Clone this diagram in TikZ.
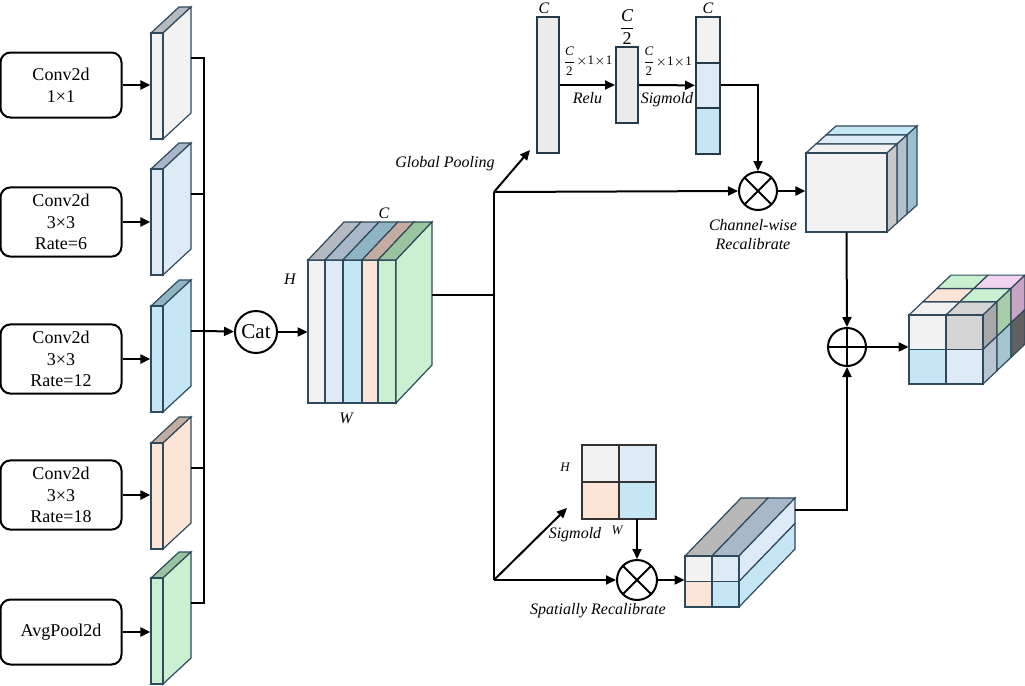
\documentclass[tikz,border=0pt]{standalone}
\usepackage{fontspec}
\setmainfont{Liberation Serif}
\usepackage{amsmath}
\usetikzlibrary{arrows.meta}
\usetikzlibrary{positioning}
\definecolor{edge}{HTML}{2E4A5C}
\definecolor{cgray}{HTML}{F2F2F2}
\definecolor{cmid}{HTML}{D4D4D4}
\definecolor{cbar}{HTML}{EBEBEB}
\definecolor{cblue}{HTML}{DEEAF6}
\definecolor{csky}{HTML}{C5E6F5}
\definecolor{cpeach}{HTML}{FCE4D6}
\definecolor{cgreen}{HTML}{C9F0D0}
\definecolor{tgray}{HTML}{B4BAC0}
\definecolor{tblue}{HTML}{A8B8C8}
\definecolor{tsky}{HTML}{8FB4C4}
\definecolor{tpeach}{HTML}{C4ACA0}
\definecolor{tgreen}{HTML}{98C4A0}
\definecolor{tdark}{HTML}{B8B8B8}
\tikzstyle{wire}=[line width=1pt]
\tikzstyle{flow}=[wire, -{Triangle[length=5pt, width=4.5pt]}]
\tikzstyle{face}=[draw=edge, line width=0.6pt]
\tikzstyle{layerbox}=[draw, line width=1pt, rounded corners=5pt, minimum width=60.5pt, minimum height=32.5pt, align=center, font=\fontsize{9}{10.8}\selectfont]
\tikzstyle{bar}=[draw=edge!80!black, line width=1pt, inner sep=0pt, minimum width=11pt]
\tikzstyle{opnode}=[circle, draw, line width=1pt, inner sep=0pt, minimum size=19pt]
\tikzstyle{mulop}=[opnode, path picture={\draw[line width=1pt] (path picture bounding box.north west) -- (path picture bounding box.south east) (path picture bounding box.north east) -- (path picture bounding box.south west);}]
\tikzstyle{addop}=[opnode, path picture={\draw[line width=1pt] (path picture bounding box.north) -- (path picture bounding box.south) (path picture bounding box.west) -- (path picture bounding box.east);}]
\tikzstyle{tag}=[font=\fontsize{8}{9.5}\selectfont\itshape, inner sep=1pt]
\tikzstyle{dimlabel}=[font=\fontsize{8}{9}\selectfont\itshape, inner sep=0pt]
\begin{document}
\begin{tikzpicture}[x=0.5pt, y=-0.5pt]
  \useasboundingbox (0,0) rectangle (1025,686);
  \foreach \i/\txt/\y/\t/\f/\tc in {1/{Conv2d\\1×1}/85/33/cgray/tgray,
      2/{Conv2d\\3×3\\Rate=6}/222/169/cblue/tblue,
      3/{Conv2d\\3×3\\Rate=12}/359/306/csky/tsky,
      4/{Conv2d\\3×3\\Rate=18}/495/443/cpeach/tpeach,
      5/{AvgPool2d}/632/578/cgreen/tgreen} {
    \node[layerbox] (b\i) at (61,\y) {\txt};
    \draw[face, fill=\tc] (151,\t) -- (163,\t) -- ++(28,-26) -- ++(-12,0) -- cycle;
    \draw[face, fill=\f] (163,\t) -- ++(28,-26) -- ++(0,106) -- (163,\t+106) -- cycle;
    \node[face, fill=\f, inner sep=0pt, minimum width=6pt, minimum height=53pt] (s\i) at (157,\t+53) {};
    \coordinate (o\i) at (191,\t+25);
    \draw[flow] (b\i.east) -- (b\i.east -| s\i.west);
  }
  \coordinate (bus) at (204,0);
  \draw[wire] (o1) -- (o1 -| bus) -- (o5 -| bus) -- (o5);
  \foreach \i in {2,3,4}
    \draw[wire] (o\i) -- (o\i -| bus);
  \node[opnode, minimum size=21pt, font=\fontsize{10.5}{12}\selectfont] (cat) at (256,332) {Cat};
  \draw[flow] (o3 -| bus) -- (cat);

  \foreach \xa/\xb/\f/\tc in {308/325/cgray/tgray, 325/343/cblue/tblue, 343/362/csky/tsky,
      362/378/cpeach/tpeach, 378/396/cgreen/tgreen} {
    \draw[face, fill=\f] (\xa,260) rectangle (\xb,403);
    \draw[face, fill=\tc] (\xa,260) -- (\xb,260) -- ++(36,-38) -- (\xa+36,222) -- cycle;
  }
  \draw[face, fill=cgreen] (396,260) -- (432,222) -- (432,365) -- (396,403) -- cycle;
  \node[inner sep=0pt, minimum width=44pt, minimum height=71.5pt] (feat) at (352,331.5) {};
  \node[dimlabel] at (384,213) {C};
  \node[dimlabel] at (290,279) {H};
  \node[dimlabel] at (346,418) {W};
  \draw[flow] (cat) -- (cat -| feat.west);

  \coordinate (fout) at (432,295);
  \coordinate (split) at (494,295);
  \coordinate (up) at (494,192);
  \coordinate (down) at (494,580);
  \draw[wire] (fout) -- (split);
  \draw[wire] (up) -- (down);
  \coordinate (gp) at (530,150);
  \draw[flow] (up) -- (gp);
  \node[tag] at (445,164) {Global Pooling};

  \node[bar, fill=cbar, minimum height=68pt] (bar1) at (548,85) {};
  \node[bar, fill=cbar, minimum height=38pt] (bar2) at (627,85) {};
  \node[bar, fill=cgray, minimum width=12pt, minimum height=22.7pt] (c1) at (708,40) {};
  \node[bar, fill=cblue, minimum width=12pt, minimum height=22.7pt, below=-1pt of c1] (c2) {};
  \node[bar, fill=csky, minimum width=12pt, minimum height=22.7pt, below=-1pt of c2] (c3) {};
  \node[dimlabel] at (544,8) {C};
  \node[dimlabel, font=\fontsize{9}{10}\selectfont] at (627,27) {$\dfrac{\textit{C}}{\text{2}}$};
  \node[dimlabel] at (708,8) {C};
  \draw[flow] (bar1) -- node[above=1pt, font=\fontsize{6.5}{7}\selectfont] {$\dfrac{\textit{C}}{\text{2}}{\times}\text{1}{\times}\text{1}$}
    node[tag, below=2pt] {Relu} (bar2);
  \draw[flow] (bar2) -- node[above=1pt, font=\fontsize{6.5}{7}\selectfont] {$\dfrac{\textit{C}}{\text{2}}{\times}\text{1}{\times}\text{1}$}
    node[tag, below=2pt] {Sigmold} (c2);

  \node[mulop] (cw) at (758,191) {};
  \draw[flow] (c2.east) -| (cw.north);
  \draw[flow] (up) -- (cw.west);
  \node[tag, align=center] at (753,235) {Channel-wise\\Recalibrate};

  \foreach \k/\tc/\sc in {2/csky/9CC0D0, 1/cblue/B4C0CC, 0/cgray/C8C8C8} {
    \definecolor{sidecol}{HTML}{\sc}
    \draw[face, fill=\tc] (806+10*\k,153-9*\k) -- (887+10*\k,153-9*\k) -- ++(10,-9) -- (816+10*\k,144-9*\k) -- cycle;
    \draw[face, fill=sidecol] (887+10*\k,153-9*\k) -- ++(10,-9) -- ++(0,79) -- (887+10*\k,232-9*\k) -- cycle;
  }
  \node[face, fill=cgray, inner sep=0pt, minimum width=40.5pt, minimum height=39.5pt] (scube) at (846.5,192.5) {};
  \draw[flow] (cw) -- (cw -| scube.west);

  \node[addop] (add) at (847,347) {};
  \draw[flow] (scube.south) -- (add.north);

  \foreach \r/\c/\tc in {0/0/F2F2F2, 0/1/D4D4D4, 1/0/FCE4D6, 1/1/C9F0D0, 2/0/C9F0D0, 2/1/F2D4F0} {
    \definecolor{cellcol}{HTML}{\tc}
    \draw[face, fill=cellcol] (909+37*\c+14*\r,315-13.3*\r) -- ++(37,0) -- ++(14,-13.3) -- ++(-37,0) -- cycle;
  }
  \foreach \r/\h/\tc in {0/0/A8A8A8, 1/0/A8CCA8, 2/0/C8A4C4, 0/1/B8C4D0, 1/1/A4C4D0, 2/1/606060} {
    \definecolor{cellcol}{HTML}{\tc}
    \draw[face, fill=cellcol] (983+14*\r,315-13.3*\r+34.5*\h) -- ++(14,-13.3) -- ++(0,34.5) -- ++(-14,13.3) -- cycle;
  }
  \foreach \c/\h/\f in {0/0/cgray, 1/0/cmid, 0/1/csky, 1/1/cblue}
    \draw[face, fill=\f] (909+37*\c,315+34.5*\h) rectangle ++(37,34.5);
  \node[inner sep=0pt, minimum width=37pt, minimum height=34.5pt] (fcube) at (946,349.5) {};
  \draw[flow] (add) -- (add -| fcube.west);

  \node[mulop, minimum size=20pt] (sw) at (637,580) {};
  \draw[flow] (down) -- (sw);
  \coordinate (sa) at (567,508);
  \draw[flow] (down) -- (sa);
  \node[tag] at (575,535) {Sigmold};
  \foreach \c/\h/\f in {0/0/cgray, 1/0/cblue, 0/1/cpeach, 1/1/csky}
    \draw[face, fill=\f, line width=0.9pt, draw=black!80] (582+37*\c,445+37*\h) rectangle ++(37,37);
  \node[inner sep=0pt, minimum width=37pt, minimum height=37pt] (smap) at (619,482) {};
  \node[dimlabel, font=\fontsize{6.5}{7}\selectfont\itshape] at (565,467) {H};
  \node[dimlabel, font=\fontsize{6.5}{7}\selectfont\itshape] at (617,530) {W};
  \draw[flow] (smap.south -| sw) -- (sw.north);
  \node[tag] at (598,611) {Spatially Recalibrate};

  \draw[face, fill=tdark] (685,556) -- (712,556) -- ++(56,-58) -- (741,498) -- cycle;
  \draw[face, fill=tblue] (712,556) -- (739,556) -- ++(56,-58) -- (768,498) -- cycle;
  \draw[face, fill=cblue] (739,556) -- ++(56,-58) -- ++(0,25.5) -- (739,581.5) -- cycle;
  \draw[face, fill=csky] (739,581.5) -- ++(56,-58) -- ++(0,25.5) -- (739,607) -- cycle;
  \foreach \c/\h/\f in {0/0/cgray, 1/0/cblue, 0/1/cpeach, 1/1/csky}
    \draw[face, fill=\f] (685+27*\c,556+25.5*\h) rectangle ++(27,25.5);
  \node[inner sep=0pt, minimum width=27pt, minimum height=25.5pt] (lcube) at (712,581.5) {};
  \draw[flow] (sw) -- (sw -| lcube.west);
  \coordinate (lout) at (795,510);
  \draw[flow] (lout) -| (add.south);
\end{tikzpicture}
\end{document}
